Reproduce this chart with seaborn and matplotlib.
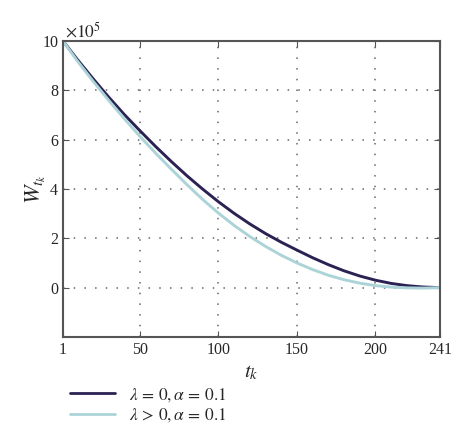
import numpy as np
import pandas as pd
import seaborn as sns
import matplotlib.pyplot as plt

# values (x10^5)
t = [1, 10, 20, 30, 40, 50, 60, 70, 80, 90, 100, 110, 120, 130, 140, 150,
     160, 170, 180, 190, 200, 210, 220, 230, 241]
w_lam0 = [10, 9.26, 8.48, 7.73, 7.02, 6.36, 5.72, 5.11, 4.53, 3.99, 3.48,
          3.01, 2.58, 2.19, 1.84, 1.52, 1.21, 0.93, 0.68, 0.47, 0.3, 0.17,
          0.08, 0.025, 0]
w_lampos = [10, 9.2, 8.38, 7.6, 6.85, 6.13, 5.45, 4.8, 4.17, 3.57, 3.02,
            2.52, 2.07, 1.67, 1.31, 1.0, 0.73, 0.5, 0.32, 0.18, 0.08, 0.02,
            -0.01, -0.02, 0]
xticks = [1, 50, 100, 150, 200, 241]
yticks = [0, 2, 4, 6, 8, 10]
labels = [r"$\lambda\, =\, 0, \alpha\, =\, 0.1$", r"$\lambda\, >\, 0, \alpha\, =\, 0.1$"]
colors = ["#2b2253", "#acd4d8"]

sns.set_style("white")
plt.rcParams['font.family'] = ['Liberation Serif', 'DejaVu Serif']
plt.rcParams['mathtext.fontset'] = 'stix'

df = pd.DataFrame({"t": t * 2, "W": w_lam0 + w_lampos,
                   "case": [labels[0]] * len(t) + [labels[1]] * len(t)})

fig = plt.figure(figsize=(4.74, 4.41), dpi=100)
ax = fig.add_axes([0.133, 0.236, 0.795, 0.671])

sns.lineplot(data=df, x="t", y="W", hue="case", palette=colors, linewidth=2.1,
             ax=ax, legend=False)

ax.set_xlim(1, 241)
ax.set_ylim(-2, 10)
ax.set_xticks(xticks)
ax.set_yticks(yticks)
ax.tick_params(direction="in", length=4, labelsize=11.5, top=True, right=True,
               bottom=True, left=True, color="#555555")
ax.grid(True, color="#666666", linestyle=(0, (1, 6)), linewidth=1.1)
for s in ax.spines.values():
    s.set_color("#555555")
    s.set_linewidth(1.5)

ax.set_xlabel(r"$t_k$", fontsize=15, labelpad=4)
ax.set_ylabel(r"$W_{t_k}$", fontsize=16, labelpad=-4)
ax.text(0.005, 1.0, r"$\times10^5$", transform=ax.transAxes, fontsize=12.5,
        ha="left", va="bottom")

handles = [plt.Line2D([], [], color=c, lw=2) for c in colors]
fig.legend(handles, labels, loc="upper left", bbox_to_anchor=(0.115, 0.16),
           frameon=False, fontsize=12.5, handlelength=2.6, labelspacing=0.15)

fig.savefig("out.png", dpi=100)
